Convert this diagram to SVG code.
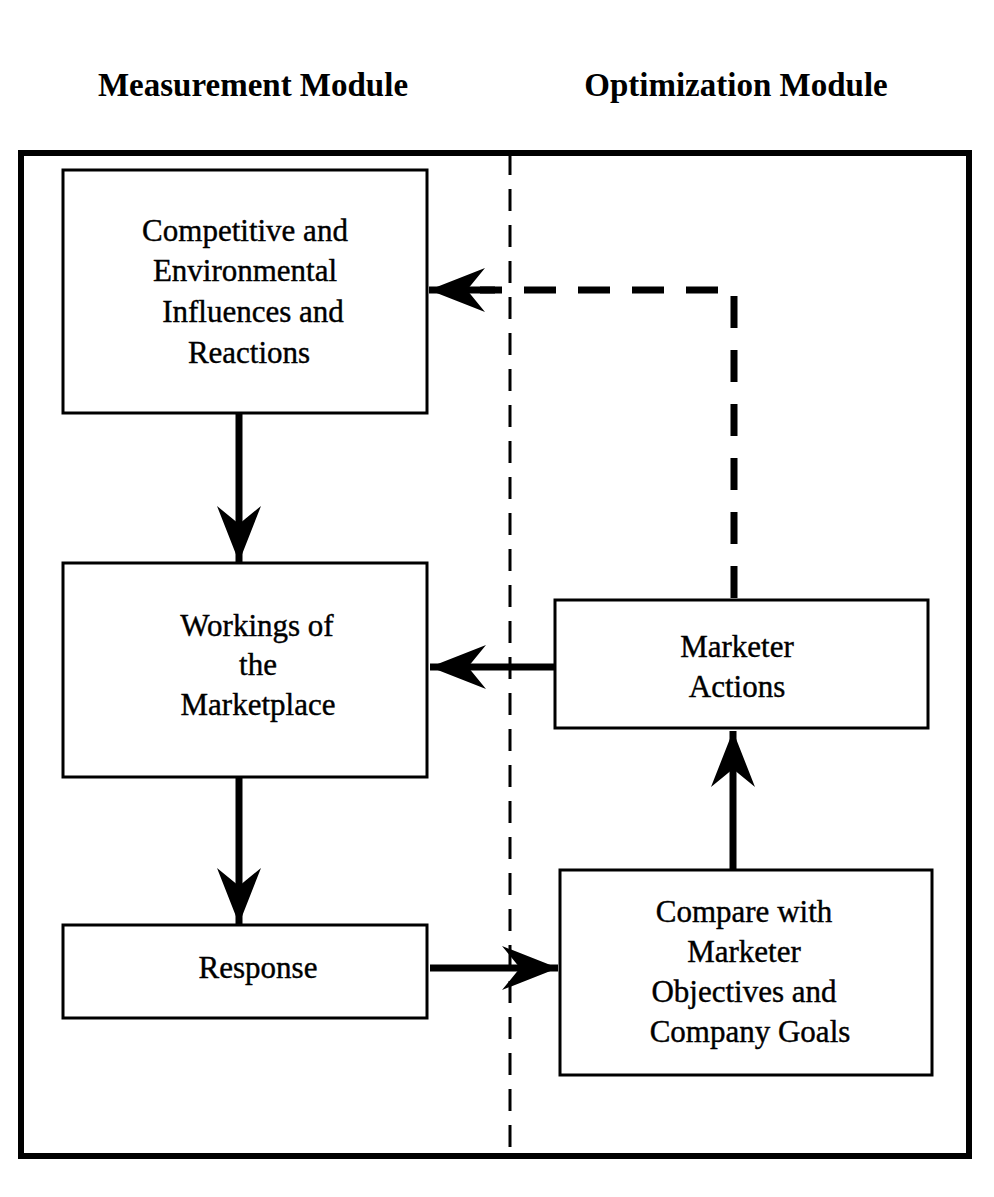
<svg xmlns="http://www.w3.org/2000/svg" width="994" height="1197" viewBox="0 0 994 1197">
<style>
.box{fill:#fff;stroke:#000;stroke-width:3}
.t{font-family:"Liberation Serif",serif;font-size:31px;text-anchor:middle;fill:#000;stroke:#000;stroke-width:0.4}
.h{font-family:"Liberation Serif",serif;font-size:33px;font-weight:bold;text-anchor:middle}
.c{stroke:#000;stroke-width:7;fill:none}
.d{stroke:#000;stroke-width:7;fill:none;stroke-dasharray:32 22}
</style>
<defs>
<marker id="a" markerUnits="userSpaceOnUse" viewBox="0 0 60 50" refX="58" refY="25" markerWidth="60" markerHeight="50" orient="auto">
<path d="M58,25 L2,3 L20,25 L2,47 Z" fill="#000"/>
</marker>
</defs>
<rect width="994" height="1197" fill="#fff"/>
<text class="h" x="253" y="96">Measurement Module</text>
<text class="h" x="736" y="96">Optimization Module</text>
<rect x="21" y="153" width="948" height="1003" fill="none" stroke="#000" stroke-width="6"/>
<line x1="510" y1="153" x2="510" y2="1156" stroke="#000" stroke-width="3" stroke-dasharray="22 14"/>
<g id="n1"><rect class="box" x="63" y="170" width="364" height="243"/>
<text class="t" x="245" y="241">Competitive and</text><text class="t" x="245" y="281">Environmental</text><text class="t" x="253" y="322">Influences and</text><text class="t" x="249" y="363">Reactions</text></g>
<g id="n2"><rect class="box" x="63" y="563" width="364" height="214"/>
<text class="t" x="257" y="636">Workings of</text><text class="t" x="258" y="675">the</text><text class="t" x="258" y="715">Marketplace</text></g>
<g id="n3"><rect class="box" x="63" y="925" width="364" height="93"/>
<text class="t" x="258" y="978">Response</text></g>
<g id="n4"><rect class="box" x="555" y="600" width="373" height="128"/>
<text class="t" x="737" y="657">Marketer</text><text class="t" x="737" y="697">Actions</text></g>
<g id="n5"><rect class="box" x="560" y="870" width="372" height="205"/>
<text class="t" x="744" y="922">Compare with</text><text class="t" x="744" y="962">Marketer</text><text class="t" x="744" y="1002">Objectives and</text><text class="t" x="750" y="1042">Company Goals</text></g>
<g id="connectors">
<line class="c" x1="239" y1="413" x2="239" y2="562" marker-end="url(#a)"/>
<line class="c" x1="239" y1="777" x2="239" y2="924" marker-end="url(#a)"/>
<line class="c" x1="430" y1="968" x2="558" y2="968" marker-end="url(#a)"/>
<line class="c" x1="733" y1="870" x2="733" y2="731" marker-end="url(#a)"/>
<line class="c" x1="555" y1="667" x2="430" y2="667" marker-end="url(#a)"/>
<polyline class="d" points="734,598 734,290 480,290"/>
<line class="c" x1="495" y1="290" x2="429" y2="290" marker-end="url(#a)"/>
</g>
</svg>
